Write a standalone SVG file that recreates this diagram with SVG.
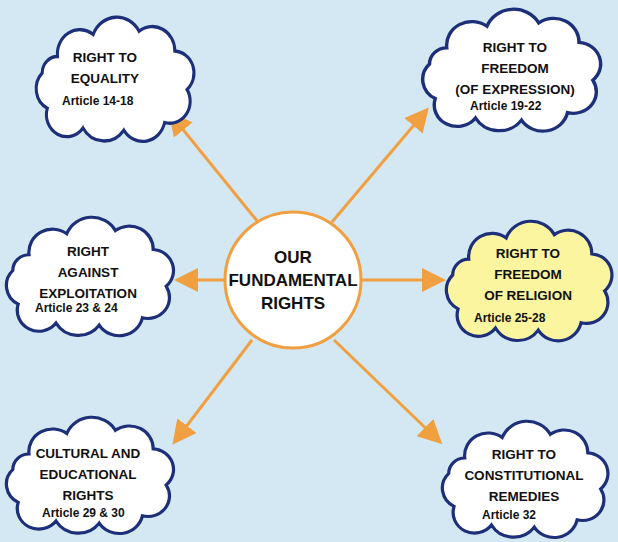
<svg xmlns="http://www.w3.org/2000/svg" width="618" height="542" viewBox="0 0 618 542">
<style>
.c{fill:#fff;stroke:#1c2f78;stroke-width:3;vector-effect:non-scaling-stroke}
.y{fill:#fbf5a0}
.t{font-family:"Liberation Sans",Arial,sans-serif;font-weight:bold;font-size:13.5px;fill:#111;text-anchor:middle}
.a{font-family:"Liberation Sans",Arial,sans-serif;font-weight:bold;font-size:12px;fill:#111}
.ln{stroke:#f0a040;stroke-width:3;fill:none;marker-end:url(#ah)}
</style>
<defs>
<marker id="ah" markerWidth="8" markerHeight="8" refX="6" refY="4" orient="auto" markerUnits="strokeWidth"><path d="M0,0 L8,4 L0,8 Z" fill="#f0a040"/></marker>
<path id="cl" d="M25,35 A22,22 0 0 1 60,15 A25,25 0 0 1 105,12 A22,22 0 0 1 140,30 A20,20 0 0 1 152,65 A20,20 0 0 1 130,95 A22,22 0 0 1 90,102 A24,24 0 0 1 50,100 A20,20 0 0 1 15,82 A20,20 0 0 1 10,50 A15,15 0 0 1 25,35 Z"/>
</defs>
<rect width="618" height="542" fill="#d3e8f3"/>
<g id="connectors">
<line class="ln" x1="258" y1="222" x2="172" y2="116"/>
<line class="ln" x1="332" y1="222" x2="425" y2="112"/>
<line class="ln" x1="225" y1="280" x2="180" y2="280"/>
<line class="ln" x1="362" y1="280" x2="440" y2="280"/>
<line class="ln" x1="252" y1="340" x2="176" y2="440"/>
<line class="ln" x1="334" y1="340" x2="438" y2="440"/>
</g>
<g id="center"><circle cx="293" cy="280" r="68" fill="#fff" stroke="#f0a040" stroke-width="3"/>
<text class="t" style="font-size:17px" x="293" y="263">OUR</text><text class="t" style="font-size:17px" x="293" y="286">FUNDAMENTAL</text><text class="t" style="font-size:17px" x="293" y="309">RIGHTS</text></g>
<g id="equality"><use href="#cl" class="c" transform="translate(32,18) scale(1.02,1.1)"/>
<text class="t" x="105" y="62">RIGHT TO</text><text class="t" x="105" y="83">EQUALITY</text><text class="a" x="62" y="105">Article 14-18</text></g>
<g id="expression"><use href="#cl" class="c" transform="translate(418,10) scale(1.15,1.08)"/>
<text class="t" x="515" y="52">RIGHT TO</text><text class="t" x="515" y="73">FREEDOM</text><text class="t" x="515" y="94">(OF EXPRESSION)</text><text class="a" x="470" y="110">Article 19-22</text></g>
<g id="exploitation"><use href="#cl" class="c" transform="translate(2,218) scale(1.08,1.05)"/>
<text class="t" x="88" y="256">RIGHT</text><text class="t" x="88" y="277">AGAINST</text><text class="t" x="88" y="298">EXPLOITATION</text><text class="a" x="35" y="312">Article 23 &amp; 24</text></g>
<g id="religion"><use href="#cl" class="c y" transform="translate(442,222) scale(1.07,1.06)"/>
<text class="t" x="528" y="258">RIGHT TO</text><text class="t" x="528" y="279">FREEDOM</text><text class="t" x="528" y="300">OF RELIGION</text><text class="a" x="474" y="322">Article 25-28</text></g>
<g id="cultural"><use href="#cl" class="c" transform="translate(2,418) scale(1.08,1.03)"/>
<text class="t" x="88" y="458">CULTURAL AND</text><text class="t" x="88" y="479">EDUCATIONAL</text><text class="t" x="88" y="500">RIGHTS</text><text class="a" x="42" y="517">Article 29 &amp; 30</text></g>
<g id="remedies"><use href="#cl" class="c" transform="translate(438,422) scale(1.07,1.03)"/>
<text class="t" x="524" y="459">RIGHT TO</text><text class="t" x="524" y="480">CONSTITUTIONAL</text><text class="t" x="524" y="501">REMEDIES</text><text class="a" x="482" y="519">Article 32</text></g>
</svg>
